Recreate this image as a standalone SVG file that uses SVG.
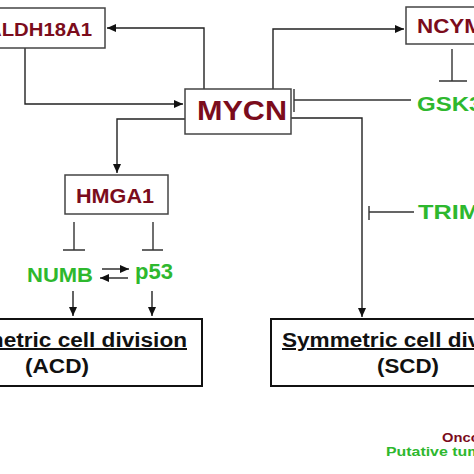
<svg xmlns="http://www.w3.org/2000/svg" width="474" height="474" viewBox="0 0 474 474">
<defs>
<marker id="ah" markerUnits="userSpaceOnUse" markerWidth="10" markerHeight="8" refX="9" refY="4" orient="auto">
<path d="M0,0 L9,4 L0,8 Z" fill="#111"/>
</marker>
</defs>
<style>
.box{fill:#fff;stroke:#444;stroke-width:1.5}
.big{fill:#fff;stroke:#111;stroke-width:2}
.onc{fill:#7b0c1c;font-family:"Liberation Sans",Arial,sans-serif;font-weight:bold}
.sup{fill:#2eb82e;font-family:"Liberation Sans",Arial,sans-serif;font-weight:bold}
.blk{fill:#111;font-family:"Liberation Sans",Arial,sans-serif;font-weight:bold}
.ln{fill:none;stroke:#333;stroke-width:1.4}
.ar{fill:none;stroke:#222;stroke-width:1.4;marker-end:url(#ah)}
</style>
<rect width="474" height="474" fill="#fff"/>
<g id="connectors">
<path class="ar" d="M204,89 V28 H107"/>
<path class="ar" d="M25,48 V104 H183"/>
<path class="ar" d="M273,89 V29 H404"/>
<path class="ln" d="M452,49 V81 M439,81 H467"/>
<path class="ln" d="M411,100 H294 M294,89 V112"/>
<path class="ar" d="M291,118 H362 V317"/>
<path class="ln" d="M414,212 H369 M369,206 V220"/>
<path class="ar" d="M185,119 H117 V173"/>
<path class="ln" d="M74,222 V250 M63,250 H85"/>
<path class="ln" d="M153,222 V250 M142,250 H163"/>
<path class="ar" d="M102,269 H129"/>
<path class="ar" d="M128,278 H100"/>
<path class="ar" d="M73,291 V316"/>
<path class="ar" d="M152,291 V316"/>
</g>
<g id="ALDH18A1">
<rect class="box" x="-26" y="8" width="131" height="40"/>
<text class="onc" x="-13" y="36" font-size="18" textLength="105" lengthAdjust="spacingAndGlyphs">ALDH18A1</text>
</g>
<g id="MYCN">
<rect class="box" x="185" y="89" width="106" height="45"/>
<text class="onc" x="197" y="120" font-size="28" textLength="90" lengthAdjust="spacingAndGlyphs">MYCN</text>
</g>
<g id="NCYM">
<rect class="box" x="406" y="7" width="100" height="37"/>
<text class="onc" x="417" y="33" font-size="20" textLength="66" lengthAdjust="spacingAndGlyphs">NCYM</text>
</g>
<g id="GSK3b">
<text class="sup" x="417" y="111" font-size="21" textLength="80" lengthAdjust="spacingAndGlyphs">GSK3β</text>
</g>
<g id="TRIM32">
<text class="sup" x="418" y="219" font-size="21" textLength="90" lengthAdjust="spacingAndGlyphs">TRIM32</text>
</g>
<g id="HMGA1">
<rect class="box" x="65" y="175" width="103" height="39"/>
<text class="onc" x="76" y="203" font-size="20" textLength="78" lengthAdjust="spacingAndGlyphs">HMGA1</text>
</g>
<g id="NUMB">
<text class="sup" x="27" y="282" font-size="21" textLength="66" lengthAdjust="spacingAndGlyphs">NUMB</text>
</g>
<g id="p53">
<text class="sup" x="135" y="279" font-size="22" textLength="38" lengthAdjust="spacingAndGlyphs">p53</text>
</g>
<g id="ACD">
<rect class="big" x="-88" y="319" width="290" height="67"/>
<text class="blk" x="54.5" y="347" font-size="20" text-anchor="middle" text-decoration="underline" textLength="265" lengthAdjust="spacingAndGlyphs">Asymmetric cell division</text>
<text class="blk" x="57" y="373" font-size="20" text-anchor="middle" textLength="64" lengthAdjust="spacingAndGlyphs">(ACD)</text>
</g>
<g id="SCD">
<rect class="big" x="271" y="319" width="280" height="67"/>
<text class="blk" x="282" y="347" font-size="20" text-decoration="underline" textLength="251" lengthAdjust="spacingAndGlyphs">Symmetric cell division</text>
<text class="blk" x="408" y="373" font-size="20" text-anchor="middle" textLength="62" lengthAdjust="spacingAndGlyphs">(SCD)</text>
</g>
<g id="legend">
<text class="onc" x="442" y="442" font-size="12" textLength="72" lengthAdjust="spacingAndGlyphs">Oncogene</text>
<text class="sup" x="386" y="456" font-size="12" textLength="202" lengthAdjust="spacingAndGlyphs">Putative tumor suppressor</text>
</g>
</svg>
